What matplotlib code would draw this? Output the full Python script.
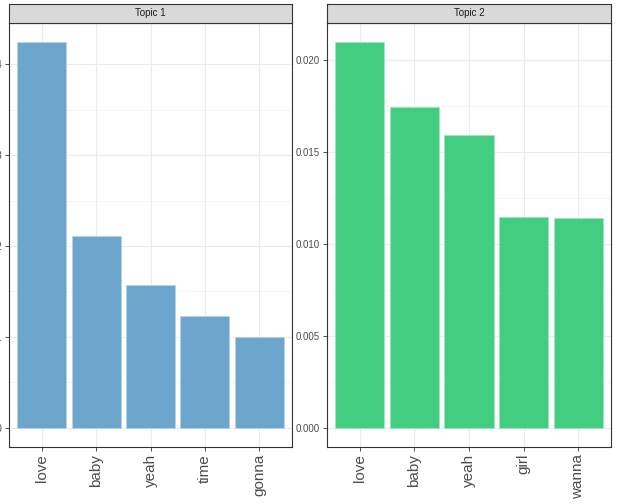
import matplotlib
matplotlib.use("Agg")
import matplotlib.pyplot as plt
from matplotlib.ticker import MultipleLocator, FormatStrFormatter

plt.rcParams['font.family'] = ['Liberation Sans', 'DejaVu Sans']

topic1_terms = ["love", "baby", "yeah", "time", "gonna"]
topic1_beta = [0.04242, 0.0211, 0.01567, 0.01231, 0.01003]
topic2_terms = ["love", "baby", "yeah", "girl", "wanna"]
topic2_beta = [0.02094, 0.01743, 0.0159, 0.01145, 0.01141]
titles = ["Topic 1", "Topic 2"]
colors = ["#6CA6CD", "#43CD80"]
edge_colors = ["#B5D3E6", "#A1E6BF"]

W, H = 620, 504
fig = plt.figure(figsize=(W / 100, H / 100), dpi=100)

panels = [
    (9, 292, topic1_terms, topic1_beta, 0.01, "%.2f"),
    (327, 611, topic2_terms, topic2_beta, 0.005, "%.3f"),
]
top_strip, strip_bot, panel_bot = 4, 23, 447

for i, (x0, x1, terms, vals, major, fmt) in enumerate(panels):
    ax = fig.add_axes([x0 / W, (H - panel_bot) / H, (x1 - x0) / W, (panel_bot - strip_bot) / H])
    xs = range(len(terms))
    ax.bar(xs, vals, width=0.9, color=colors[i], edgecolor=edge_colors[i], linewidth=0.6, zorder=3)
    vmax = max(vals)
    ax.set_ylim(-0.05 * vmax, 1.05 * vmax)
    ax.set_xlim(-0.6, len(terms) - 0.4)
    ax.set_xticks(list(xs))
    ax.set_xticklabels(terms, rotation=90, fontsize=11, color="#4D4D4D")
    ax.yaxis.set_major_locator(MultipleLocator(major))
    ax.yaxis.set_minor_locator(MultipleLocator(major / 2))
    ax.yaxis.set_major_formatter(FormatStrFormatter(fmt))
    ax.tick_params(axis="y", labelsize=7, colors="#333333", labelcolor="#4D4D4D", length=3, width=0.6, pad=2)
    ax.tick_params(axis="y", which="minor", length=0)
    ax.tick_params(axis="x", colors="#333333", labelcolor="#4D4D4D", length=3, width=0.6, pad=2)
    ax.grid(True, which="major", color="#EBEBEB", linewidth=0.8, zorder=0)
    ax.grid(True, which="minor", axis="y", color="#F2F2F2", linewidth=0.5, zorder=0)
    ax.set_axisbelow(True)
    for s in ax.spines.values():
        s.set_color("#333333")
        s.set_linewidth(0.8)

    sax = fig.add_axes([x0 / W, (H - strip_bot) / H, (x1 - x0) / W, (strip_bot - top_strip) / H])
    sax.set_facecolor("#D9D9D9")
    sax.set_xticks([])
    sax.set_yticks([])
    for s in sax.spines.values():
        s.set_color("#333333")
        s.set_linewidth(0.8)
    sax.text(0.5, 0.5, titles[i], ha="center", va="center", fontsize=7, color="#1A1A1A",
             transform=sax.transAxes)

fig.savefig("out.png", dpi=100, facecolor="white")
